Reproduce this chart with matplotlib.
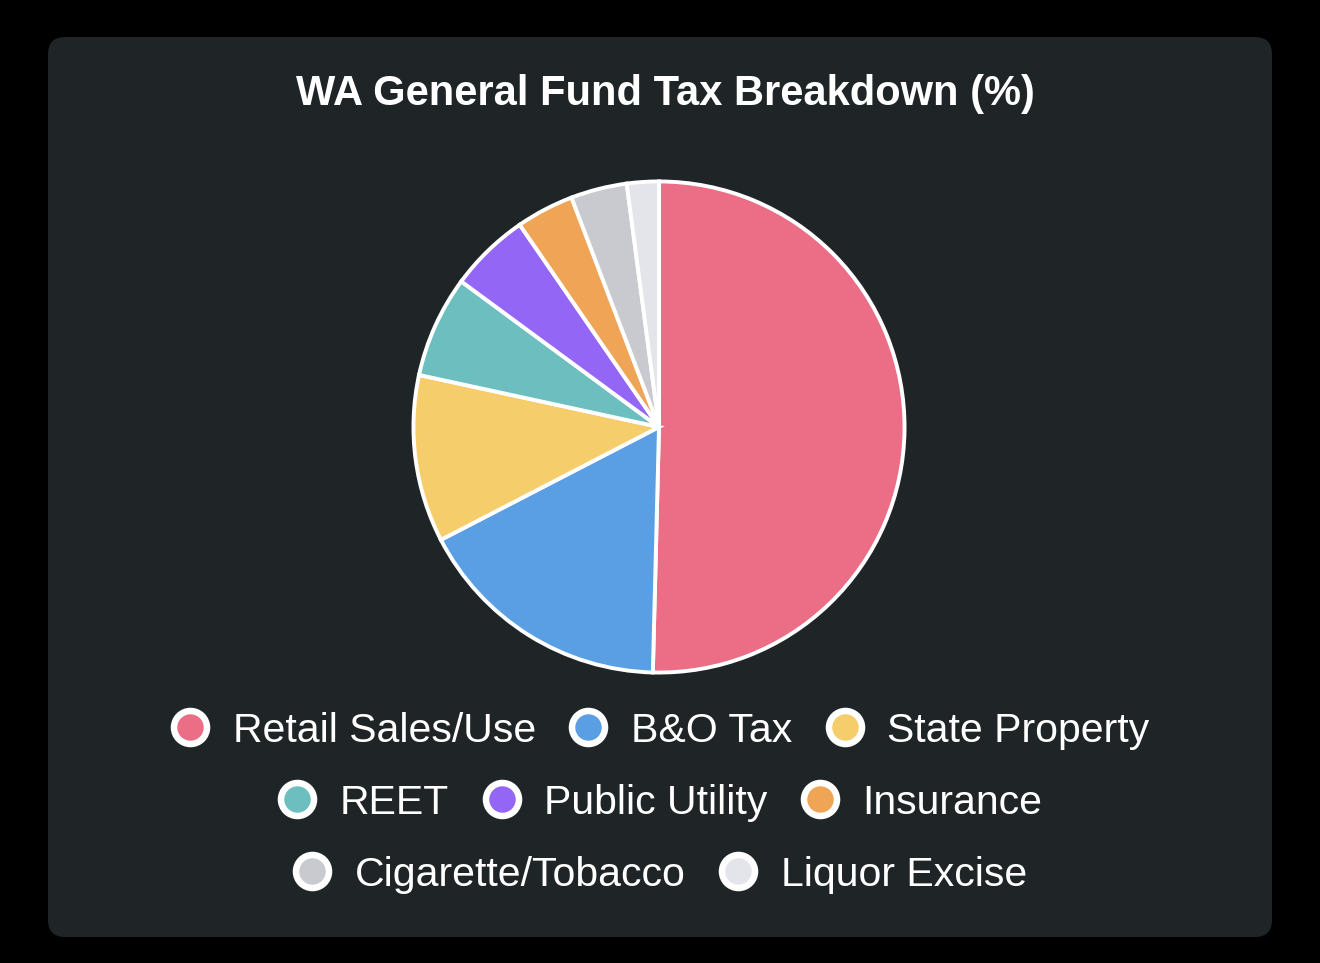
import matplotlib
matplotlib.use("Agg")
import matplotlib.pyplot as plt
from matplotlib.patches import FancyBboxPatch

# data
labels = ["Retail Sales/Use", "B&O Tax", "State Property", "REET",
          "Public Utility", "Insurance", "Cigarette/Tobacco", "Liquor Excise"]
shares = [50.4, 17.0, 11.0, 6.7, 5.3, 3.8, 3.7, 2.1]
colors = ["#ec6e86", "#5a9fe3", "#f6cd6b", "#6dbfbf",
          "#9466f5", "#f0a455", "#c9cacf", "#e4e5ea"]
legend_rows = [[0, 1, 2], [3, 4, 5], [6, 7]]

W, H = 1320, 963
plt.rcParams['font.family'] = ['Liberation Sans', 'DejaVu Sans']
fig = plt.figure(figsize=(W / 100, H / 100), dpi=100, facecolor="black")

# card background
card = FancyBboxPatch((48 / W, 1 - 937 / H), (1272 - 48) / W, (937 - 37) / H,
                      boxstyle="round,pad=0,rounding_size=0.013",
                      transform=fig.transFigure, facecolor="#1f2527",
                      edgecolor="none", mutation_aspect=W / H, zorder=-5)
fig.patches.append(card)

fig.text(665 / W, 1 - 94 / H, "WA General Fund Tax Breakdown (%)",
         ha="center", va="center", color="white", fontsize=30,
         fontweight="bold")

# pie
cx, cy, r = 659, 427, 248
ax = fig.add_axes([(cx - r) / W, (H - cy - r) / H, 2 * r / W, 2 * r / H])
ax.pie(shares, colors=colors, startangle=90, counterclock=False,
       wedgeprops=dict(edgecolor="white", linewidth=2.8))
ax.set_xlim(-1.01, 1.01)
ax.set_ylim(-1.01, 1.01)
ax.set_aspect("equal")
ax.axis("off")

# legend drawn by hand so rows are centered like the original
fig.canvas.draw()
rend = fig.canvas.get_renderer()
fs = 29.5
row_y = [727, 799, 871]
box = 39
gap_txt = 23
gap_item = 33
lax = fig.add_axes([0, 0, 1, 1])
lax.set_xlim(0, W)
lax.set_ylim(H, 0)
lax.axis("off")
for row, y in zip(legend_rows, row_y):
    widths = []
    for i in row:
        t = fig.text(0, 0, labels[i], fontsize=fs)
        widths.append(t.get_window_extent(rend).width)
        t.remove()
    total = sum(box + gap_txt + w for w in widths) + gap_item * (len(row) - 1)
    x = 660 - total / 2
    for i, w in zip(row, widths):
        lax.scatter([x + box / 2], [y], s=(33 * 0.72) ** 2,
                    color=colors[i], edgecolor="white", linewidth=4.7,
                    zorder=3)
        lax.text(x + box + gap_txt, y + 15, labels[i], fontsize=fs,
                 color="white", ha="left", va="baseline")
        x += box + gap_txt + w + gap_item

fig.savefig("out.png", dpi=100, facecolor="black")
